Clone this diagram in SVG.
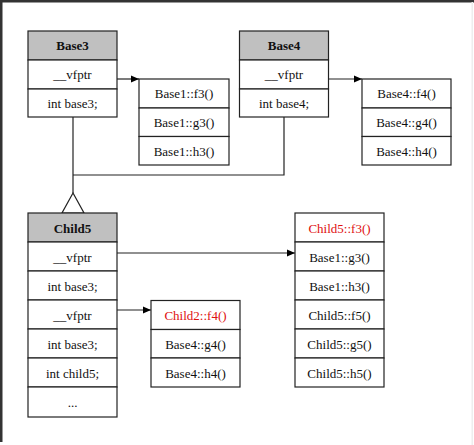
<svg xmlns="http://www.w3.org/2000/svg" width="474" height="445" viewBox="0 0 474 445">
<defs>
<marker id="ah" markerWidth="8" markerHeight="8" refX="8" refY="4" orient="auto" markerUnits="userSpaceOnUse">
<path d="M0,0.5 L8,4 L0,7.5 z" fill="#000"/>
</marker>
<style>
.box{fill:#fff;stroke:#222;stroke-width:1.2}
.hd{fill:#c0c0c0;stroke:#222;stroke-width:1.2}
.t{font-family:"Liberation Serif","Times New Roman",serif;font-size:13px;fill:#111;text-anchor:middle}
.b{font-weight:bold}
.r{fill:#e01010}
.ln{stroke:#222;stroke-width:1.2;fill:none}
</style>
</defs>
<rect x="0" y="0" width="474" height="445" fill="#fff"/>
<rect x="0" y="0" width="474" height="2.5" fill="#333"/>
<rect x="0" y="0" width="2.5" height="442" fill="#333"/>
<rect x="471.5" y="2" width="1.5" height="443" fill="#eee"/>

<g id="connectors">
<line class="ln" x1="117" y1="79" x2="139" y2="79" marker-end="url(#ah)"/>
<line class="ln" x1="329" y1="79" x2="362" y2="79" marker-end="url(#ah)"/>
<line class="ln" x1="117" y1="253" x2="295" y2="253" marker-end="url(#ah)"/>
<line class="ln" x1="117" y1="310" x2="151" y2="310" marker-end="url(#ah)"/>
<polyline class="ln" points="73,117 73,193"/>
<polyline class="ln" points="73,175 284,175 284,117"/>
<polygon class="ln" points="73,193 62,213 84,213" fill="#fff"/>
</g>

<g id="Base3">
<rect class="hd" x="28" y="31" width="89" height="29"/>
<rect class="box" x="28" y="60" width="89" height="29"/>
<rect class="box" x="28" y="89" width="89" height="28"/>
<text class="t b" x="72.5" y="50">Base3</text>
<text class="t" x="72.5" y="79">__vfptr</text>
<text class="t" x="72.5" y="108">int base3;</text>
</g>

<g id="vtbl3">
<rect class="box" x="139" y="79" width="90" height="29"/>
<rect class="box" x="139" y="108" width="90" height="28.5"/>
<rect class="box" x="139" y="136.5" width="90" height="28.5"/>
<text class="t" x="184" y="98">Base1::f3()</text>
<text class="t" x="184" y="127">Base1::g3()</text>
<text class="t" x="184" y="156">Base1::h3()</text>
</g>

<g id="Base4">
<rect class="hd" x="239.5" y="31" width="89" height="29"/>
<rect class="box" x="239.5" y="60" width="89" height="29"/>
<rect class="box" x="239.5" y="89" width="89" height="28"/>
<text class="t b" x="284" y="50">Base4</text>
<text class="t" x="284" y="79">__vfptr</text>
<text class="t" x="284" y="108">int base4;</text>
</g>

<g id="vtbl4">
<rect class="box" x="362" y="79" width="89" height="29"/>
<rect class="box" x="362" y="108" width="89" height="28.5"/>
<rect class="box" x="362" y="136.5" width="89" height="28.5"/>
<text class="t" x="406.5" y="98">Base4::f4()</text>
<text class="t" x="406.5" y="127">Base4::g4()</text>
<text class="t" x="406.5" y="156">Base4::h4()</text>
</g>

<g id="Child5">
<rect class="hd" x="28" y="213" width="89" height="29"/>
<rect class="box" x="28" y="242" width="89" height="29"/>
<rect class="box" x="28" y="271" width="89" height="29"/>
<rect class="box" x="28" y="300" width="89" height="29"/>
<rect class="box" x="28" y="329" width="89" height="29"/>
<rect class="box" x="28" y="358" width="89" height="29"/>
<rect class="box" x="28" y="387" width="89" height="30"/>
<text class="t b" x="72.5" y="233">Child5</text>
<text class="t" x="72.5" y="262">__vfptr</text>
<text class="t" x="72.5" y="291">int base3;</text>
<text class="t" x="72.5" y="320">__vfptr</text>
<text class="t" x="72.5" y="349">int base3;</text>
<text class="t" x="72.5" y="378">int child5;</text>
<text class="t" x="72.5" y="407">...</text>
</g>

<g id="vtblChild5a">
<rect class="box" x="295" y="213" width="89" height="29"/>
<rect class="box" x="295" y="242" width="89" height="29"/>
<rect class="box" x="295" y="271" width="89" height="29"/>
<rect class="box" x="295" y="300" width="89" height="29"/>
<rect class="box" x="295" y="329" width="89" height="29"/>
<rect class="box" x="295" y="358" width="89" height="29"/>
<text class="t r" x="339.5" y="233">Child5::f3()</text>
<text class="t" x="339.5" y="262">Base1::g3()</text>
<text class="t" x="339.5" y="291">Base1::h3()</text>
<text class="t" x="339.5" y="320">Child5::f5()</text>
<text class="t" x="339.5" y="349">Child5::g5()</text>
<text class="t" x="339.5" y="378">Child5::h5()</text>
</g>

<g id="vtblChild5b">
<rect class="box" x="151" y="300.5" width="89" height="29"/>
<rect class="box" x="151" y="329.5" width="89" height="28.5"/>
<rect class="box" x="151" y="358" width="89" height="29"/>
<text class="t r" x="195.5" y="320">Child2::f4()</text>
<text class="t" x="195.5" y="349">Base4::g4()</text>
<text class="t" x="195.5" y="378">Base4::h4()</text>
</g>
</svg>
